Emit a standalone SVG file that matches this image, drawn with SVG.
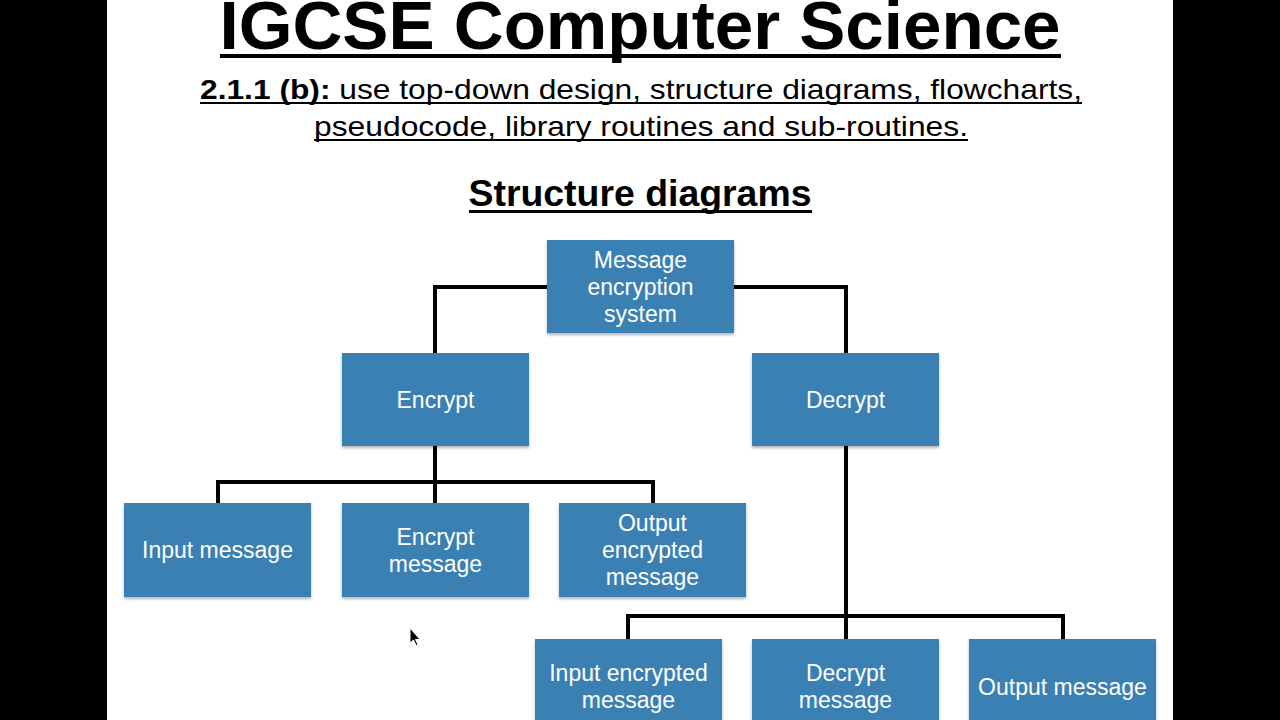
<svg xmlns="http://www.w3.org/2000/svg" width="1280" height="720" viewBox="0 0 1280 720">
<defs>
<filter id="sh" x="-10%" y="-10%" width="120%" height="130%">
<feDropShadow dx="0" dy="2" stdDeviation="1.5" flood-color="#000" flood-opacity="0.3"/>
</filter>
<style>
.box{fill:#3b80b3;filter:url(#sh)}
.bt{font-family:"Liberation Sans",Arial,sans-serif;font-size:23px;fill:#fff;text-anchor:middle}
.conn{stroke:#000;stroke-width:4;fill:none;stroke-linecap:square}
.hd{font-family:"Liberation Sans",Arial,sans-serif;fill:#000;text-anchor:middle}
</style>
</defs>
<rect x="0" y="0" width="1280" height="720" fill="#fff"/>
<rect x="0" y="0" width="107" height="720" fill="#000"/>
<rect x="1173" y="0" width="107" height="720" fill="#000"/>
<g id="title">
<text class="hd" x="640" y="49" font-size="69" font-weight="bold" textLength="841" lengthAdjust="spacingAndGlyphs">IGCSE Computer Science</text>
<rect x="220" y="54" width="841" height="4" fill="#000"/>
<text x="200" y="99" font-family="&quot;Liberation Sans&quot;,Arial,sans-serif" font-size="28" fill="#000" textLength="882" lengthAdjust="spacingAndGlyphs"><tspan font-weight="bold">2.1.1 (b):</tspan> use top-down design, structure diagrams, flowcharts,</text>
<rect x="200" y="102" width="882" height="2" fill="#000"/>
<text x="314" y="136" font-family="&quot;Liberation Sans&quot;,Arial,sans-serif" font-size="28" fill="#000" textLength="654" lengthAdjust="spacingAndGlyphs">pseudocode, library routines and sub-routines.</text>
<rect x="314" y="139" width="654" height="2" fill="#000"/>
<text class="hd" x="640" y="206" font-size="37" font-weight="bold" textLength="343" lengthAdjust="spacingAndGlyphs">Structure diagrams</text>
<rect x="469" y="210" width="343" height="3" fill="#000"/>
</g>
<g id="connectors">
<path class="conn" d="M547 287 H435 V353 M734 287 H846 V353"/>
<path class="conn" d="M435 446 V503 M218 503 V482 H653 V503"/>
<path class="conn" d="M846 446 V639 M628 639 V616 H1063 V639"/>
</g>
<g id="n-root"><rect class="box" x="547" y="240" width="187" height="93"/>
<text class="bt" x="640.5" y="268">Message</text><text class="bt" x="640.5" y="295">encryption</text><text class="bt" x="640.5" y="322">system</text></g>
<g id="n-encrypt"><rect class="box" x="342" y="353" width="187" height="93"/><text class="bt" x="435.5" y="408">Encrypt</text></g>
<g id="n-decrypt"><rect class="box" x="752" y="353" width="187" height="93"/><text class="bt" x="845.5" y="408">Decrypt</text></g>
<g id="n-input"><rect class="box" x="124" y="503" width="187" height="94"/><text class="bt" x="217.5" y="558">Input message</text></g>
<g id="n-encmsg"><rect class="box" x="342" y="503" width="187" height="94"/><text class="bt" x="435.5" y="545">Encrypt</text><text class="bt" x="435.5" y="572">message</text></g>
<g id="n-outenc"><rect class="box" x="559" y="503" width="187" height="94"/><text class="bt" x="652.5" y="531">Output</text><text class="bt" x="652.5" y="558">encrypted</text><text class="bt" x="652.5" y="585">message</text></g>
<g id="n-inenc"><rect class="box" x="535" y="639" width="187" height="94"/><text class="bt" x="628.5" y="681">Input encrypted</text><text class="bt" x="628.5" y="708">message</text></g>
<g id="n-decmsg"><rect class="box" x="752" y="639" width="187" height="94"/><text class="bt" x="845.5" y="681">Decrypt</text><text class="bt" x="845.5" y="708">message</text></g>
<g id="n-outmsg"><rect class="box" x="969" y="639" width="187" height="94"/><text class="bt" x="1062.5" y="695">Output message</text></g>
<path d="M410 628 L410 643 L413.5 640 L416 645.5 L418 644.5 L415.5 639.5 L420 639.5 Z" fill="#000" stroke="#fff" stroke-width="1"/>
</svg>
